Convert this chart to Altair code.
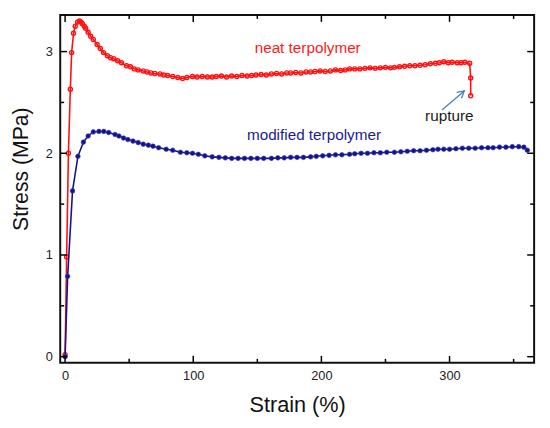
import altair as alt
import pandas as pd

# ---------------- data ----------------
neat_strain = [0, 1.2, 2.6, 4.1, 5.1, 6.6, 7.9, 9.7, 11.2, 12.5, 13.5, 15, 16, 18, 20, 22, 25, 27.5,
               30, 33, 35.5, 38, 41, 44, 48, 51, 54, 57, 61, 64, 67, 70, 74, 77, 80, 84, 88, 91.7,
               95, 99.4, 103, 107, 111, 114.8, 118, 122, 126, 130, 134, 138, 142, 145.5, 149, 153,
               157, 161, 165, 169, 173, 176, 180, 184, 188, 191.6, 195, 199, 203, 207, 211, 215,
               218.5, 222, 226, 230, 234, 238, 242, 246, 250, 254, 257, 261, 265, 269, 273, 277,
               281, 285, 289, 292, 295.5, 299, 302, 306, 309, 312, 315.7, 316.5, 316.5]
neat_stress = [0.02, 0.98, 2.0, 2.63, 2.99, 3.18, 3.25, 3.29, 3.30, 3.29, 3.275, 3.25, 3.23, 3.19,
               3.15, 3.12, 3.07, 3.03, 2.99, 2.96, 2.94, 2.93, 2.91, 2.89, 2.86, 2.85, 2.83, 2.82,
               2.81, 2.80, 2.79, 2.785, 2.78, 2.77, 2.765, 2.755, 2.745, 2.735, 2.745, 2.755, 2.75,
               2.755, 2.75, 2.75, 2.755, 2.76, 2.75, 2.76, 2.755, 2.765, 2.76, 2.765, 2.77, 2.775,
               2.77, 2.78, 2.785, 2.78, 2.79, 2.79, 2.795, 2.79, 2.80, 2.80, 2.805, 2.81, 2.805,
               2.81, 2.82, 2.815, 2.82, 2.83, 2.83, 2.83, 2.835, 2.84, 2.835, 2.84, 2.845, 2.84,
               2.845, 2.85, 2.855, 2.86, 2.86, 2.865, 2.87, 2.88, 2.885, 2.89, 2.90, 2.89, 2.895,
               2.89, 2.89, 2.895, 2.885, 2.74, 2.565]

mod_strain = [0, 2, 5.8, 10, 14.3, 18, 22, 26.4, 30.2, 34, 39, 42, 45.6, 49, 53, 57, 61, 65, 68.6,
              73, 78.9, 84, 90, 95, 99.4, 104, 109, 114.8, 120, 125, 130, 135, 140, 145, 150, 155,
              161, 166, 171, 176, 181, 186, 191.6, 196, 201, 206, 211, 216, 222, 226, 231, 236,
              241, 246, 251, 257, 262, 267, 272, 277, 282, 287, 291, 295.5, 300, 305, 310, 315,
              320, 325, 330, 334, 339, 344, 349, 354, 358, 360.7]
mod_stress = [0.0, 0.79, 1.63, 1.97, 2.11, 2.17, 2.21, 2.215, 2.215, 2.205, 2.185, 2.17, 2.15, 2.135,
              2.12, 2.105, 2.09, 2.08, 2.07, 2.055, 2.04, 2.03, 2.01, 2.005, 2.0, 1.99, 1.975,
              1.965, 1.96, 1.955, 1.95, 1.95, 1.95, 1.95, 1.95, 1.95, 1.95, 1.955, 1.955, 1.96,
              1.96, 1.96, 1.965, 1.97, 1.975, 1.98, 1.985, 1.985, 1.99, 1.995, 2.0, 2.0, 2.005,
              2.005, 2.01, 2.01, 2.015, 2.02, 2.025, 2.025, 2.03, 2.035, 2.04, 2.04, 2.04, 2.045,
              2.05, 2.05, 2.05, 2.055, 2.055, 2.055, 2.06, 2.06, 2.065, 2.065, 2.06, 2.03]

x_major = [0, 100, 200, 300]
x_minor = [50, 150, 250, 350]
y_major = [0, 1, 2, 3]
y_minor = [0.5, 1.5, 2.5]

labels_text = ["neat terpolymer", "modified terpolymer", "rupture"]
labels_x = [189.3, 194.2, 299.8]
labels_y = [2.99, 2.13, 2.32]
labels_color = ["#ff1a1a", "#1c1c8c", "#1a1a1a"]

arrow_from = (294.1, 2.426)
arrow_to = (311.5, 2.613)

# ---------------- layout ----------------
W, H = 481, 353
FONT = "Liberation Sans"
RED = "#ff1010"
NAVY = "#13138a"

xscale = alt.Scale(domain=[-3.8, 366], nice=False, zero=False)
yscale = alt.Scale(domain=[-0.06, 3.36], nice=False, zero=False)

neat = pd.DataFrame({"strain": neat_strain, "stress": neat_stress, "i": range(len(neat_strain))})
mod = pd.DataFrame({"strain": mod_strain, "stress": mod_stress, "i": range(len(mod_strain))})

xaxis = alt.Axis(values=x_major, title="Strain (%)", grid=False, ticks=False, tickSize=0,
                 domain=False, labelPadding=7, titleBaseline="alphabetic", titleY=49,
                 titleFontSize=22)
yaxis = alt.Axis(values=y_major, title="Stress (MPa)", grid=False, ticks=False, tickSize=0,
                 domain=False, labelPadding=8, titleBaseline="alphabetic", titleX=-33,
                 titleY=156, titleAlign="center", titleFontSize=21.5)

X = alt.X("strain:Q", scale=xscale, axis=xaxis)
Y = alt.Y("stress:Q", scale=yscale, axis=yaxis)

neat_line = alt.Chart(neat).mark_line(color=RED, strokeWidth=1.6).encode(x=X, y=Y, order="i:Q")
neat_pts = alt.Chart(neat).mark_point(shape="circle", filled=False, color=RED, size=17,
                                      strokeWidth=1.4, opacity=1).encode(x=X, y=Y)
mod_line = alt.Chart(mod).mark_line(color=NAVY, strokeWidth=1.6).encode(x=X, y=Y, order="i:Q")
mod_pts = alt.Chart(mod).mark_point(shape="circle", filled=True, color=NAVY, size=22,
                                    stroke="#3a3ab0", strokeWidth=0.6, opacity=1).encode(x=X, y=Y)

labels = pd.DataFrame({"t": labels_text, "strain": labels_x, "stress": labels_y, "c": labels_color})
text = alt.Chart(labels).mark_text(font=FONT, fontSize=15.5, baseline="alphabetic",
                                   align="center").encode(
    x=X, y=Y, text="t:N", color=alt.Color("c:N", scale=None),
)

arrow_df = pd.DataFrame({"strain": [arrow_from[0]], "stress": [arrow_from[1]],
                         "strain2": [arrow_to[0]], "stress2": [arrow_to[1]]})
ARROW = "#4a7ebb"
arrow_line = alt.Chart(arrow_df).mark_rule(color=ARROW, strokeWidth=1.3).encode(
    x=X, y=Y, x2="strain2:Q", y2="stress2:Q",
)
arrow_head = alt.Chart(arrow_df).mark_point(shape="M-0.55,1 L0,0 L0.55,1", filled=False,
                                            color=ARROW, size=190, strokeWidth=1.3, angle=50,
                                            opacity=1).encode(
    x=alt.X("strain2:Q", scale=xscale, axis=xaxis),
    y=alt.Y("stress2:Q", scale=yscale, axis=yaxis),
)

def xticks(vals, length):
    d = pd.DataFrame({"strain": vals})
    bottom = alt.Chart(d).mark_rule(color="black", strokeWidth=1.5).encode(
        x=X, y=alt.value(H), y2=alt.value(H - length))
    top = alt.Chart(d).mark_rule(color="black", strokeWidth=1.5).encode(
        x=X, y=alt.value(0), y2=alt.value(length))
    return [bottom, top]

def yticks(vals, length):
    d = pd.DataFrame({"stress": vals})
    left = alt.Chart(d).mark_rule(color="black", strokeWidth=1.5).encode(
        y=Y, x=alt.value(0), x2=alt.value(length))
    right = alt.Chart(d).mark_rule(color="black", strokeWidth=1.5).encode(
        y=Y, x=alt.value(W), x2=alt.value(W - length))
    return [left, right]

tick_layers = xticks(x_major, 7) + xticks(x_minor, 4) + yticks(y_major, 7) + yticks(y_minor, 4)

chart = alt.layer(
    neat_line, neat_pts, mod_line, mod_pts, text, arrow_line, arrow_head, *tick_layers
).properties(
    width=W, height=H,
    autosize=alt.AutoSizeParams(type="none"),
    padding={"left": 53, "top": 4, "right": 8, "bottom": 55},
    background="white",
).configure_axis(
    labelFont=FONT, labelFontSize=13, labelColor="#222222",
    titleFont=FONT, titleFontWeight="normal", titleColor="#111111",
).configure_view(
    stroke="#111111", strokeWidth=2
)

chart.save("out.html", embed_options={"renderer": "svg", "actions": False})
